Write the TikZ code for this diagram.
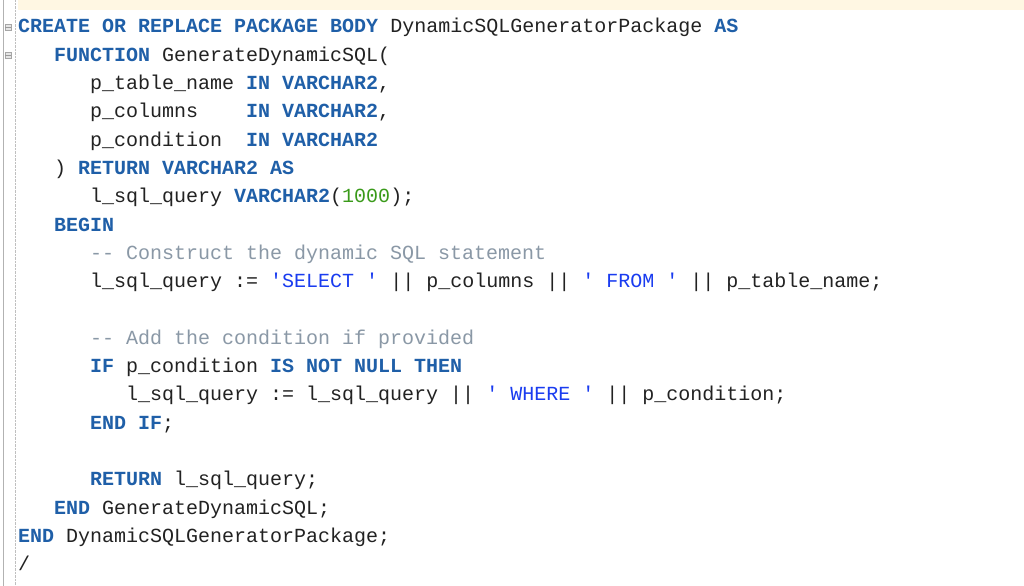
\documentclass[tikz,border=0pt]{standalone}
\usepackage{fontspec}
\newfontfamily\code{Liberation Mono}[Ligatures=ResetAll]
\definecolor{kw}{HTML}{1F5FA8}
\definecolor{str}{HTML}{1A3CF0}
\definecolor{num}{HTML}{3A9A1A}
\definecolor{cmt}{HTML}{8A98A6}
\definecolor{txt}{HTML}{222222}
\definecolor{band}{HTML}{FFF7E3}
\newcommand{\K}[1]{\textcolor{kw}{\bfseries #1}}
\newcommand{\St}[1]{\textcolor{str}{#1}}
\newcommand{\q}{\char"27\relax}
\tikzset{codeline/.style={anchor=base west,inner sep=0pt,font=\code\fontsize{20bp}{24bp}\selectfont,text=txt},
 fold/.style={draw=gray!70,fill=gray!20,minimum size=6bp,inner sep=0pt}}
\begin{document}
\begin{tikzpicture}[x=1bp,y=-1bp]
\useasboundingbox (0,0) rectangle (1024,586);
\fill[white] (0,0) rectangle (1024,586);
\fill[band] (18,0) rectangle (1024,10);
\draw[gray!60] (3,0) -- (3,586);
\draw[gray!50,densely dotted] (15,0) -- (15,586);
\node[fold] (f1) at (8,27) {};
\node[fold] (f2) at (8,55) {};
\draw[gray!80] (f1.west) -- (f1.east) (f2.west) -- (f2.east);
\def\L#1#2#3{\node[codeline] (l#1) at ({18+12*#2},{33+28.3*(#1-1)}) {#3};}
\L{1}{0}{\K{CREATE OR REPLACE PACKAGE BODY} DynamicSQLGeneratorPackage \K{AS}}
\L{2}{3}{\K{FUNCTION} GenerateDynamicSQL(}
\L{3}{6}{p\_table\_name \K{IN VARCHAR2},}
\L{4}{6}{p\_columns\ \ \ \ \K{IN VARCHAR2},}
\L{5}{6}{p\_condition\ \ \K{IN VARCHAR2}}
\L{6}{3}{) \K{RETURN VARCHAR2 AS}}
\L{7}{6}{l\_sql\_query \K{VARCHAR2}(\textcolor{num}{1000});}
\L{8}{3}{\K{BEGIN}}
\L{9}{6}{\textcolor{cmt}{{-}{-} Construct the dynamic SQL statement}}
\L{10}{6}{l\_sql\_query := \St{\q SELECT \q} || p\_columns || \St{\q\ FROM \q} || p\_table\_name;}
\L{12}{6}{\textcolor{cmt}{{-}{-} Add the condition if provided}}
\L{13}{6}{\K{IF} p\_condition \K{IS NOT NULL THEN}}
\L{14}{9}{l\_sql\_query := l\_sql\_query || \St{\q\ WHERE \q} || p\_condition;}
\L{15}{6}{\K{END IF};}
\L{17}{6}{\K{RETURN} l\_sql\_query;}
\L{18}{3}{\K{END} GenerateDynamicSQL;}
\L{19}{0}{\K{END} DynamicSQLGeneratorPackage;}
\L{20}{0}{/}
\end{tikzpicture}
\end{document}
